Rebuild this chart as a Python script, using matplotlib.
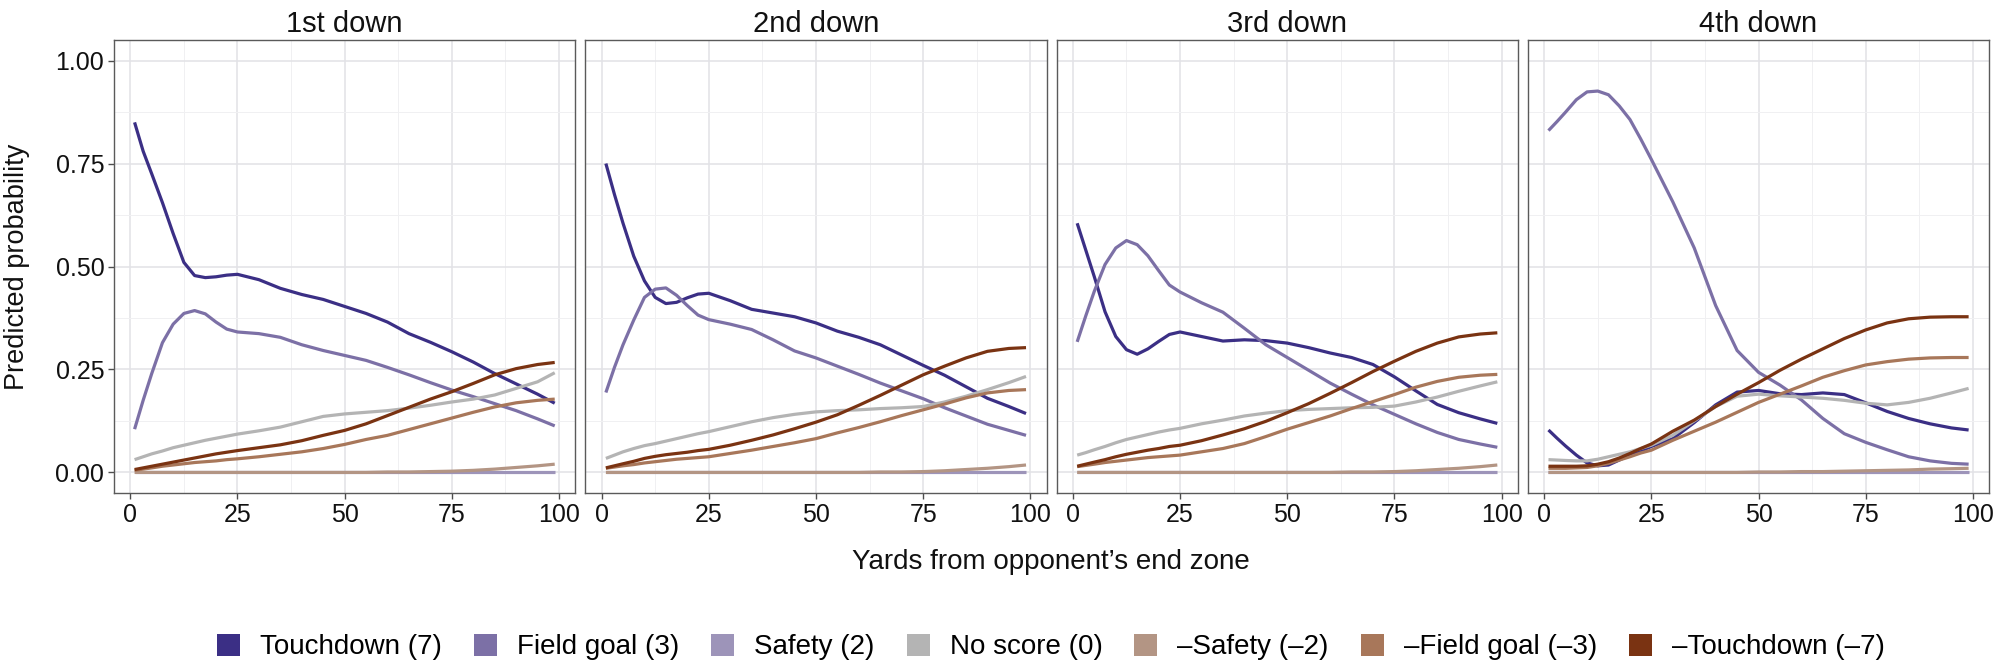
import matplotlib
matplotlib.use("Agg")
import matplotlib.pyplot as plt
from matplotlib.patches import Patch
from matplotlib.ticker import MultipleLocator

plt.rcParams['font.family'] = ['Liberation Sans', 'DejaVu Sans']

# ---------------- data ----------------
yards = [1, 3, 5, 7.5, 10, 12.5, 15, 17.5, 20, 22.5, 25, 30, 35, 40, 45, 50,
         55, 60, 65, 70, 75, 80, 85, 90, 95, 99]

downs = ["1st down", "2nd down", "3rd down", "4th down"]

outcome_labels = ["Touchdown (7)", "Field goal (3)", "Safety (2)", "No score (0)",
                  "\u2013Safety (\u20132)", "\u2013Field goal (\u20133)",
                  "\u2013Touchdown (\u20137)"]
outcome_colors = ["#3b2f85", "#7c70a6", "#9d94b9", "#b4b4b4",
                  "#b39584", "#a8775a", "#7a3312"]

# 1st down
touchdown_d1 = [0.85, 0.78, 0.725, 0.655, 0.58, 0.51, 0.478, 0.473, 0.475, 0.479, 0.481,
                0.468, 0.447, 0.432, 0.42, 0.403, 0.386, 0.365, 0.337, 0.316, 0.293,
                0.268, 0.24, 0.215, 0.19, 0.168]
fieldgoal_d1 = [0.105, 0.175, 0.24, 0.315, 0.36, 0.386, 0.393, 0.385, 0.365, 0.348, 0.341,
                0.337, 0.328, 0.31, 0.296, 0.284, 0.272, 0.255, 0.237, 0.218, 0.2,
                0.184, 0.167, 0.15, 0.13, 0.113]
safety_d1 = [0, 0, 0, 0, 0, 0, 0, 0, 0, 0, 0, 0, 0, 0, 0, 0, 0, 0, 0, 0, 0, 0, 0, 0, 0, 0]
noscore_d1 = [0.031, 0.038, 0.045, 0.052, 0.06, 0.066, 0.072, 0.078, 0.083, 0.088, 0.093,
              0.101, 0.11, 0.123, 0.136, 0.142, 0.146, 0.15, 0.156, 0.163, 0.171,
              0.178, 0.188, 0.204, 0.22, 0.242]
opp_safety_d1 = [0, 0, 0, 0, 0, 0, 0, 0, 0, 0, 0, 0, 0, 0, 0, 0, 0, 0.001, 0.001, 0.002,
                 0.003, 0.005, 0.008, 0.012, 0.016, 0.02]
opp_fieldgoal_d1 = [0.005, 0.008, 0.011, 0.015, 0.018, 0.021, 0.024, 0.026, 0.028, 0.031,
                    0.033, 0.038, 0.044, 0.05, 0.058, 0.068, 0.08, 0.09, 0.104, 0.118,
                    0.132, 0.146, 0.159, 0.169, 0.175, 0.178]
opp_touchdown_d1 = [0.007, 0.011, 0.015, 0.02, 0.025, 0.03, 0.035, 0.04, 0.045, 0.049,
                    0.053, 0.06, 0.067, 0.077, 0.09, 0.102, 0.118, 0.138, 0.158, 0.178,
                    0.196, 0.216, 0.237, 0.252, 0.262, 0.267]

# 2nd down
touchdown_d2 = [0.75, 0.675, 0.605, 0.525, 0.465, 0.425, 0.41, 0.413, 0.424, 0.433, 0.435,
                0.417, 0.396, 0.387, 0.378, 0.363, 0.343, 0.328, 0.31, 0.285, 0.26,
                0.236, 0.208, 0.18, 0.16, 0.143]
fieldgoal_d2 = [0.194, 0.255, 0.31, 0.37, 0.425, 0.445, 0.448, 0.43, 0.405, 0.382, 0.371,
                0.36, 0.347, 0.322, 0.295, 0.278, 0.258, 0.238, 0.217, 0.198, 0.179,
                0.157, 0.137, 0.117, 0.102, 0.09]
safety_d2 = [0, 0, 0, 0, 0, 0, 0, 0, 0, 0, 0, 0, 0, 0, 0, 0, 0, 0, 0, 0, 0, 0, 0, 0, 0, 0]
noscore_d2 = [0.034, 0.042, 0.05, 0.058, 0.065, 0.07, 0.076, 0.082, 0.088, 0.094, 0.099,
              0.111, 0.123, 0.133, 0.141, 0.147, 0.15, 0.152, 0.155, 0.157, 0.16,
              0.171, 0.185, 0.201, 0.218, 0.233]
opp_safety_d2 = [0, 0, 0, 0, 0, 0, 0, 0, 0, 0, 0, 0, 0, 0, 0, 0, 0, 0, 0.001, 0.001,
                 0.002, 0.004, 0.007, 0.01, 0.014, 0.018]
opp_fieldgoal_d2 = [0.01, 0.013, 0.016, 0.019, 0.023, 0.026, 0.029, 0.032, 0.034, 0.036,
                    0.038, 0.046, 0.054, 0.063, 0.072, 0.082, 0.096, 0.109, 0.123, 0.138,
                    0.152, 0.166, 0.181, 0.193, 0.199, 0.201]
opp_touchdown_d2 = [0.011, 0.016, 0.021, 0.027, 0.034, 0.039, 0.043, 0.046, 0.049, 0.053,
                    0.056, 0.066, 0.078, 0.091, 0.106, 0.122, 0.14, 0.163, 0.187, 0.212,
                    0.237, 0.258, 0.278, 0.294, 0.301, 0.303]

# 3rd down
touchdown_d3 = [0.605, 0.54, 0.475, 0.39, 0.33, 0.298, 0.287, 0.3, 0.318, 0.335, 0.341,
                0.33, 0.319, 0.322, 0.32, 0.314, 0.303, 0.29, 0.279, 0.262, 0.232,
                0.198, 0.165, 0.145, 0.13, 0.119]
fieldgoal_d3 = [0.317, 0.38, 0.44, 0.505, 0.545, 0.563, 0.553, 0.526, 0.49, 0.455, 0.438,
                0.412, 0.389, 0.35, 0.31, 0.279, 0.248, 0.217, 0.19, 0.164, 0.141,
                0.118, 0.097, 0.08, 0.069, 0.061]
safety_d3 = [0, 0, 0, 0, 0, 0, 0, 0, 0, 0, 0, 0, 0, 0, 0, 0, 0, 0, 0, 0, 0, 0, 0, 0, 0, 0]
noscore_d3 = [0.042, 0.048, 0.055, 0.063, 0.072, 0.08, 0.086, 0.092, 0.098, 0.103, 0.107,
              0.118, 0.127, 0.137, 0.144, 0.15, 0.153, 0.155, 0.157, 0.158, 0.161,
              0.171, 0.183, 0.197, 0.21, 0.22]
opp_safety_d3 = [0, 0, 0, 0, 0, 0, 0, 0, 0, 0, 0, 0, 0, 0, 0, 0, 0, 0, 0.001, 0.001,
                 0.002, 0.004, 0.007, 0.01, 0.014, 0.018]
opp_fieldgoal_d3 = [0.014, 0.017, 0.02, 0.024, 0.027, 0.03, 0.033, 0.036, 0.038, 0.04,
                    0.042, 0.05, 0.058, 0.07, 0.087, 0.105, 0.121, 0.137, 0.155, 0.172,
                    0.189, 0.207, 0.221, 0.231, 0.236, 0.238]
opp_touchdown_d3 = [0.015, 0.02, 0.025, 0.031, 0.038, 0.044, 0.049, 0.054, 0.058, 0.063,
                    0.066, 0.077, 0.091, 0.106, 0.124, 0.145, 0.167, 0.192, 0.218, 0.245,
                    0.27, 0.294, 0.314, 0.329, 0.336, 0.339]

# 4th down
touchdown_d4 = [0.103, 0.083, 0.064, 0.042, 0.023, 0.016, 0.018, 0.03, 0.042, 0.052, 0.063,
                0.082, 0.121, 0.164, 0.195, 0.199, 0.191, 0.189, 0.193, 0.189, 0.169,
                0.148, 0.131, 0.118, 0.108, 0.103]
fieldgoal_d4 = [0.83, 0.852, 0.875, 0.905, 0.924, 0.926, 0.917, 0.89, 0.857, 0.81, 0.76,
                0.657, 0.545, 0.405, 0.296, 0.243, 0.212, 0.176, 0.131, 0.094, 0.073,
                0.055, 0.038, 0.028, 0.022, 0.02]
safety_d4 = [0, 0, 0, 0, 0, 0, 0, 0, 0, 0, 0, 0, 0, 0, 0, 0, 0, 0, 0, 0, 0, 0, 0, 0, 0, 0]
noscore_d4 = [0.031, 0.03, 0.029, 0.028, 0.028, 0.032, 0.038, 0.044, 0.05, 0.058, 0.066,
              0.09, 0.125, 0.16, 0.185, 0.19, 0.186, 0.183, 0.18, 0.175, 0.168,
              0.164, 0.17, 0.18, 0.193, 0.204]
opp_safety_d4 = [0, 0, 0, 0, 0, 0, 0, 0, 0, 0, 0, 0, 0, 0, 0, 0.001, 0.001, 0.002, 0.002,
                 0.003, 0.004, 0.005, 0.006, 0.008, 0.009, 0.01]
opp_fieldgoal_d4 = [0.01, 0.01, 0.01, 0.011, 0.012, 0.016, 0.022, 0.03, 0.038, 0.047,
                    0.054, 0.078, 0.1, 0.122, 0.146, 0.17, 0.19, 0.21, 0.231, 0.247,
                    0.261, 0.269, 0.275, 0.278, 0.279, 0.279]
opp_touchdown_d4 = [0.015, 0.015, 0.015, 0.015, 0.016, 0.02, 0.026, 0.035, 0.046, 0.058,
                    0.069, 0.1, 0.127, 0.16, 0.19, 0.218, 0.248, 0.275, 0.3, 0.325,
                    0.346, 0.363, 0.373, 0.377, 0.378, 0.378]

panels = [
    [touchdown_d1, fieldgoal_d1, safety_d1, noscore_d1, opp_safety_d1, opp_fieldgoal_d1, opp_touchdown_d1],
    [touchdown_d2, fieldgoal_d2, safety_d2, noscore_d2, opp_safety_d2, opp_fieldgoal_d2, opp_touchdown_d2],
    [touchdown_d3, fieldgoal_d3, safety_d3, noscore_d3, opp_safety_d3, opp_fieldgoal_d3, opp_touchdown_d3],
    [touchdown_d4, fieldgoal_d4, safety_d4, noscore_d4, opp_safety_d4, opp_fieldgoal_d4, opp_touchdown_d4],
]

# ---------------- layout ----------------
W, H = 1998, 663
fig = plt.figure(figsize=(W / 100, H / 100), dpi=100)
fig.patch.set_facecolor("white")

left0, pw, gap = 114, 461.3, 10
top, bottom = 40, 493

for i, (title, series) in enumerate(zip(downs, panels)):
    l = left0 + i * (pw + gap)
    ax = fig.add_axes([l / W, 1 - bottom / H, pw / W, (bottom - top) / H])
    for vals, col in zip(series, outcome_colors):
        ax.plot(yards, vals, color=col, lw=2.3, solid_capstyle="butt",
                solid_joinstyle="round", zorder=3)
    ax.set_xlim(-3.8, 103.8)
    ax.set_ylim(-0.05, 1.05)
    ax.xaxis.set_major_locator(MultipleLocator(25))
    ax.xaxis.set_minor_locator(MultipleLocator(12.5))
    ax.yaxis.set_major_locator(MultipleLocator(0.25))
    ax.yaxis.set_minor_locator(MultipleLocator(0.125))
    ax.set_axisbelow(True)
    ax.grid(which="major", color="#e2e2e6", lw=1.1)
    ax.grid(which="minor", color="#f0f0f2", lw=0.7)
    for sp in ax.spines.values():
        sp.set_color("#5a5a5a")
        sp.set_linewidth(1.0)
    ax.tick_params(which="minor", length=0)
    ax.tick_params(which="major", length=4, width=1, color="#4d4d4d",
                   labelsize=18, labelcolor="#111111", pad=3)
    if i == 0:
        ax.set_yticks([0, 0.25, 0.5, 0.75, 1.0])
        ax.set_yticklabels(["0.00", "0.25", "0.50", "0.75", "1.00"])
    else:
        ax.tick_params(axis="y", which="both", left=False, labelleft=False)
    ax.set_title(title, fontsize=21, pad=6, color="#111111")

fig.text(17 / W, 1 - ((top + bottom) / 2) / H, "Predicted probability",
         rotation=90, ha="center", va="center", fontsize=19.5, color="#111111")
fig.text(1051 / W, 1 - 562 / H, "Yards from opponent\u2019s end zone",
         ha="center", va="center", fontsize=20, color="#111111")

handles = [Patch(facecolor=c, edgecolor="none") for c in outcome_colors]
fig.legend(handles, outcome_labels, loc="center", ncol=7,
           bbox_to_anchor=(1051 / W, 1 - 647 / H), frameon=False,
           fontsize=20, handlelength=0.83, handleheight=0.83,
           handletextpad=0.72, columnspacing=1.15, borderaxespad=0, borderpad=0.1)

fig.savefig("out.png", dpi=100, facecolor="white")
